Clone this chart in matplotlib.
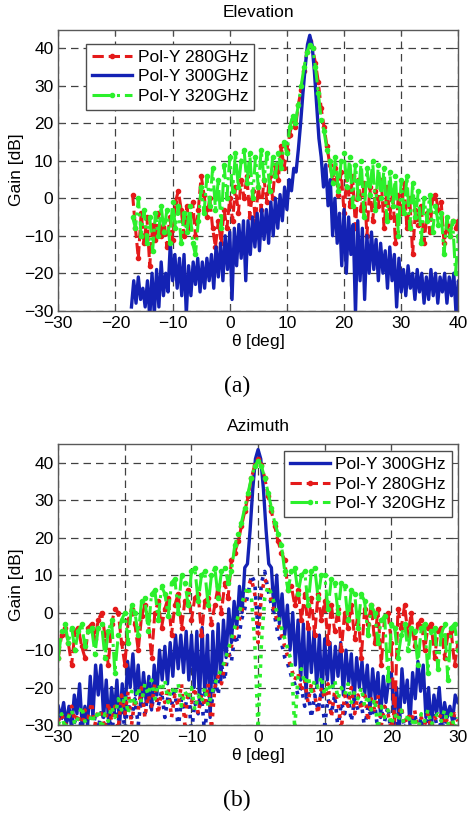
import numpy as np
import matplotlib
matplotlib.use('Agg')
import matplotlib.pyplot as plt

plt.rcParams['font.family'] = ['Liberation Sans', 'DejaVu Sans']

# ---------------- Elevation (a) ----------------
# theta grids: start angle + step, one gain value per sample
el_300_start, el_300_step = -17.2, 0.4
el_300 = [-29, -22, -28, -21, -27, -24, -29, -22, -32, -20,
          -31, -19, -29, -17, -26, -20, -25, -12, -22, -15,
          -24, -16, -26, -15, -31, -18, -26, -17, -23, -16,
          -25, -17, -24, -16, -22, -15, -24, -13, -21, -12,
          -22, -10, -19, -9, -27, -8, -18, -7, -16, -6,
          -22, -6, -15, -5, -13, -4, -14, -3, -11, -3,
          -12, -1, -10, 0, -8, 1, -6, 3, -3, 5,
          2, 8, 7, 13, 20, 28, 35, 41, 43.5, 41,
          34, 25, 16, 11, 3, 9, -2, 5, -10, 0,
          -12, -4, -18, -3, -20, -5, -15, -7, -31, -6,
          -22, -8, -27, -10, -20, -9, -19, -11, -22, -12,
          -20, -14, -24, -13, -22, -15, -29, -16, -25, -19,
          -26, -18, -24, -20, -27, -19, -25, -20, -28, -21,
          -27, -19, -26, -20, -28, -21, -25, -20, -28, -21,
          -26, -20, -31, -22, -26]

el_280_start, el_280_step = -17.0, 0.5
el_280 = [1, -8, -16, -4, -12, -5, -18, -7, -11, -4,
          -10, -6, -13, -5, -11, -1, 2, -3, -10, -2,
          -8, -1, -10, -3, 6, 1, -5, 0, -8, -13,
          -6, -12, -3, -8, 0, -6, 3, -4, 5, 0,
          6, -5, 2, -6, 3, -3, 5, -1, 6, 0,
          9, 5, 14, 8, 13, 17, 21, 19, 25, 29,
          34, 39, 42, 40, 36, 31, 24, 19, 14, 9,
          5, 8, 1, 7, -4, 6, -2, 6, -8, 5,
          -3, 4, -10, 3, -6, 2, -2, 5, -8, 3,
          -5, 2, -12, 1, -4, 4, -8, 0, -15, -3,
          -7, -2, -12, -4, -9, 0, 1, -3, -1, -12,
          -7, -10, -6, -8, -6, -5]

el_320_start, el_320_step = -17.0, 0.5
el_320 = [-5, -8, 0, -10, -3, -12, -5, -14, -4, -10,
          -2, -9, -3, -12, -1, -8, -2, -12, -4, -9,
          -2, -12, -15, -6, 3, -4, 6, -2, 8, -3,
          5, -8, 9, 0, 11, 2, 12, 3, 10, 13,
          4, 12, 0, 11, 3, 13, 5, 12, 2, 11,
          6, 12, 8, 15, 12, 19, 22, 20, 25, 30,
          35, 39, 41, 40, 35, 28, 21, 18, 13, 10,
          4, 11, 2, 10, 12, 3, 11, -2, 9, 0,
          10, -5, 8, 1, 10, -3, 9, 0, 8, -6,
          7, -2, 6, -10, 5, -4, 6, -8, 4, -5,
          2, -12, 0, -6, 1, -9, -2, -7, -4, -15,
          -5, -10, -6, -20, -10, -12]

# ---------------- Azimuth (b) ----------------
az_300_start, az_300_step = -30.0, 0.4
az_300 = [-25, -28, -24, -30, -25, -31, -22, -27, -19, -31,
          -25, -30, -17, -28, -14, -22, -14, -28, -18, -31,
          -20, -27, -18, -30, -19, -28, -13, -20, -11, -22,
          -14, -25, -16, -24, -17, -26, -14, -22, -10, -18,
          -9, -19, -8, -17, -6, -15, -6, -16, -5, -18,
          -6, -20, -5, -24, -4, -22, -6, -28, -5, -20,
          -3, -18, -2, -12, 1, -8, 3, -4, 7, 0,
          12, 13, 22, 33, 41, 43.5, 41, 33, 22, 13,
          12, 0, 10, -3, 5, -6, 2, -10, 0, -14,
          -2, -18, -3, -22, -4, -16, -5, -20, -6, -22,
          -7, -18, -8, -20, -9, -17, -8, -22, -10, -19,
          -11, -24, -12, -20, -13, -22, -14, -26, -15, -23,
          -16, -28, -17, -24, -18, -16, -27, -20, -31, -15,
          -24, -18, -30, -16, -23, -13, -21, -14, -28, -20,
          -31, -22, -27, -20, -30, -24, -28, -25, -29, -22,
          -24]

az_280_start, az_280_step = -30.0, 0.5
az_280 = [-12, -6, -4, -8, -14, -5, -4, -9, -12, -4,
          -3, -7, -2, 0, -6, -14, -3, 1, 0, -8,
          -14, -2, 1, -3, -10, -1, 2, -2, -12, 0,
          3, -4, 1, 4, -6, 2, 5, -4, 3, 6,
          -2, 4, 5, -6, 3, 4, -3, 2, 7, 0,
          8, 4, 14, 16, 19, 23, 27, 31, 36, 39.5,
          41, 39.5, 36, 31, 27, 23, 19, 16, 14, 6,
          7, 2, 6, -2, 5, -4, 4, -6, 5, -2,
          3, -8, 2, -5, 1, -10, 0, -4, 2, -7,
          0, -12, 1, -3, 2, -8, 1, -14, -1, 0,
          -8, -30, 1, -4, 2, -6, 0, -9, -3, -2,
          -10, -4, -3, -12, -5, -4, -12, -6, -5, -14,
          -8]

az_320_start, az_320_step = -30.0, 0.5
az_320 = [-12, -5, -3, -8, -4, -10, -5, -3, -9, -5,
          -4, -11, -4, -3, -12, -5, -2, -16, -6, -2,
          0, -8, 2, 0, -6, 3, 4, -5, 5, 6,
          -2, 7, 5, -1, 8, 9, 0, 10, 8, 2,
          11, 12, 3, 10, 11, 2, 10, 12, 4, 11,
          12, 8, 11, 18, 21, 24, 28, 32, 36, 39,
          40.5, 39, 36, 32, 28, 24, 21, 18, 11, 6,
          11, 12, 5, 10, 11, 2, 11, 12, 4, 10,
          10, 1, 9, 8, 0, 8, 7, -2, 6, 5,
          -4, 5, 3, -6, 2, 0, -8, -2, -1, -18,
          -3, -4, -12, -6, -3, -10, -4, -5, -14, -4,
          -3, -16, -5, -4, -15, -6, -3, -18, -4, -3,
          -10]

# dotted (cross-polar) traces, not in legend
azx_start, azx_step = -30.0, 0.5
azx_300 = [-31, -28, -32, -27, -31, -29, -33, -28, -31, -27,
           -32, -28, -31, -26, -30, -27, -32, -26, -29, -25,
           -31, -24, -28, -23, -30, -22, -27, -21, -26, -20,
           -25, -21, -28, -22, -25, -20, -31, -23, -26, -21,
           -32, -24, -27, -22, -33, -20, -25, -17, -22, -14,
           -18, -10, -13, -6, -8, -2, 1, 5, 10, 8,
           -5, 8, 11, 6, 2, -1, -6, -8, -12, -14,
           -17, -19, -22, -20, -25, -21, -28, -22, -26, -21,
           -30, -23, -27, -22, -31, -24, -27, -22, -29, -23,
           -26, -24, -31, -25, -28, -24, -32, -26, -29, -25,
           -33, -27, -30, -26, -31, -28, -32, -27, -31, -28,
           -33, -28, -31, -27, -32, -29, -31, -27, -30, -28,
           -31]
azx_280 = [-29, -27, -30, -28, -25, -29, -27, -31, -26, -28,
           -24, -30, -26, -27, -31, -24, -29, -25, -31, -22,
           -27, -21, -30, -23, -26, -20, -28, -22, -25, -19,
           -27, -21, -24, -20, -28, -22, -25, -19, -30, -21,
           -24, -20, -27, -22, -25, -19, -31, -20, -17, -19,
           -14, -12, -9, -6, -3, 0, 3, 7, 9, 5,
           -8, 5, 9, 7, 3, 0, -3, -6, -9, -12,
           -15, -18, -16, -21, -18, -24, -19, -22, -27, -20,
           -23, -19, -28, -21, -24, -31, -22, -25, -20, -27,
           -22, -26, -21, -29, -23, -26, -22, -30, -25, -27,
           -31, -26, -28, -25, -30, -27, -29, -26, -31, -28,
           -30, -27, -31, -28, -29, -27, -30, -28, -31, -27,
           -29]
azx_320 = [-30, -27, -31, -28, -26, -30, -28, -25, -29, -31,
           -27, -29, -26, -31, -27, -29, -25, -28, -23, -26,
           -22, -27, -21, -25, -20, -24, -19, -22, -18, -23,
           -19, -21, -18, -24, -20, -22, -19, -25, -21, -23,
           -20, -26, -22, -24, -20, -25, -22, -19, -17, -15,
           -13, -10, -7, -4, -1, 2, 5, 7, 4, -8,
           -31, -8, 4, 7, 5, 2, -1, -4, -7, -10,
           -13, -31, -17, -15, -19, -17, -21, -18, -20, -17,
           -22, -19, -21, -18, -23, -20, -22, -19, -24, -21,
           -23, -20, -25, -22, -26, -23, -31, -25, -28, -26,
           -30, -27, -29, -26, -31, -27, -30, -28, -32, -27,
           -29, -26, -30, -28, -27, -29, -26, -30, -27, -31,
           -28]

C_RED = '#e41a1a'
C_BLUE = '#1422b4'
C_GREEN = '#2cf02c'
FS = 12.5


def angles(start, step, gain):
    return start + step * np.arange(len(gain))


def style_axes(ax, xlim, title):
    ax.set_xlim(*xlim)
    ax.set_ylim(-30, 45)
    ax.set_xticks(np.arange(xlim[0], xlim[1] + 1, 10))
    ax.set_yticks(np.arange(-30, 41, 10))
    ax.grid(True, linestyle=(0, (6, 4)), color='0.25', linewidth=0.9)
    ax.set_axisbelow(True)
    ax.tick_params(direction='in', top=True, right=True, labelsize=FS, length=4, color='0.3')
    for s in ax.spines.values():
        s.set_color('0.35')
        s.set_linewidth(1.0)
    ax.set_title(title, fontsize=FS, pad=9)
    ax.set_xlabel(r'$\mathregular{\theta}$ [deg]', fontsize=FS, labelpad=1)
    ax.set_ylabel('Gain [dB]', fontsize=FS, labelpad=0)


fig = plt.figure(figsize=(4.74, 8.17), dpi=100)
ax1 = fig.add_axes([0.123, 0.6197, 0.844, 0.344])
ax2 = fig.add_axes([0.123, 0.1126, 0.843, 0.344])

# (a) elevation
ax1.plot(angles(el_280_start, el_280_step, el_280), el_280, color=C_RED, ls='--', lw=2.2,
         marker='.', ms=6, label='Pol-Y 280GHz')
ax1.plot(angles(el_300_start, el_300_step, el_300), el_300, color=C_BLUE, ls='-', lw=2.4,
         label='Pol-Y 300GHz')
ax1.plot(angles(el_320_start, el_320_step, el_320), el_320, color=C_GREEN, ls='-.', lw=2.2,
         marker='.', ms=6, label='Pol-Y 320GHz')
style_axes(ax1, (-30, 40), 'Elevation')
leg1 = ax1.legend(loc='upper left', bbox_to_anchor=(0.07, 0.95), fontsize=FS, numpoints=1,
                  handlelength=2.3, handletextpad=0.3, borderpad=0.35, labelspacing=0.25,
                  fancybox=False, framealpha=1, edgecolor='0.3', borderaxespad=0)

# (b) azimuth
ax2.plot(angles(az_300_start, az_300_step, az_300), az_300, color=C_BLUE, ls='-', lw=2.4,
         label='Pol-Y 300GHz')
ax2.plot(angles(az_280_start, az_280_step, az_280), az_280, color=C_RED, ls='--', lw=2.2,
         marker='.', ms=6, label='Pol-Y 280GHz')
ax2.plot(angles(az_320_start, az_320_step, az_320), az_320, color=C_GREEN, ls='-.', lw=2.2,
         marker='.', ms=6, label='Pol-Y 320GHz')
ax2.plot(angles(azx_start, azx_step, azx_300), azx_300, color=C_BLUE, ls=':', lw=2.6)
ax2.plot(angles(azx_start, azx_step, azx_280), azx_280, color=C_RED, ls=':', lw=2.6)
ax2.plot(angles(azx_start, azx_step, azx_320), azx_320, color=C_GREEN, ls=':', lw=2.6)
style_axes(ax2, (-30, 30), 'Azimuth')
leg2 = ax2.legend(loc='upper right', bbox_to_anchor=(0.985, 0.975), fontsize=FS, numpoints=1,
                  handlelength=2.3, handletextpad=0.3, borderpad=0.35, labelspacing=0.25,
                  fancybox=False, framealpha=1, edgecolor='0.3', borderaxespad=0)

fig.text(0.5, 1 - 386 / 817, '(a)', ha='center', va='center', family='Liberation Serif', fontsize=17)
fig.text(0.5, 1 - 800 / 817, '(b)', ha='center', va='center', family='Liberation Serif', fontsize=17)

fig.savefig('out.png', dpi=100)
